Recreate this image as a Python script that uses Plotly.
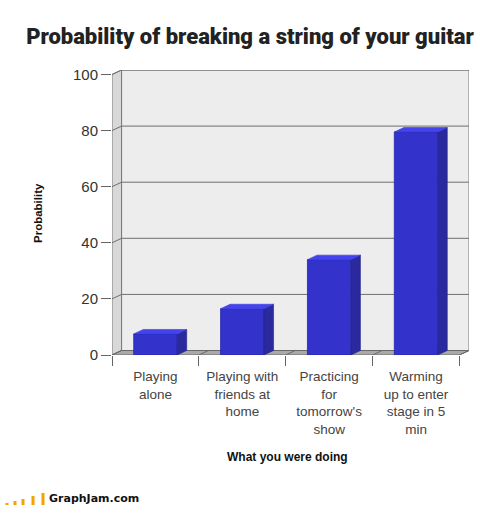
import plotly.graph_objects as go

categories = [
    "Playing<br>alone",
    "Playing with<br>friends at<br>home",
    "Practicing<br>for<br>tomorrow's<br>show",
    "Warming<br>up to enter<br>stage in 5<br>min",
]
probability = [7.5, 16.5, 34, 79.5]
y_ticks = [0, 20, 40, 60, 80, 100]

# fake-3D depth, in axis units
DX = 0.11
DY = 1.6
HALF = 0.25

FRONT = "#3333cc"
SIDE = "#2a2a9e"
TOP = "#4343f0"
GRID = "#6e6e6e"

xs = list(range(len(categories)))
x_lo, x_hi = -0.5, len(categories) - 0.5

fig = go.Figure()

# front faces
fig.add_trace(go.Bar(
    x=xs, y=probability, width=2 * HALF,
    marker=dict(color=FRONT, line=dict(color="#2525a8", width=0.8)),
    hoverinfo="y",
))

# side and top faces
side_x, side_y, top_x, top_y = [], [], [], []
for x, v in zip(xs, probability):
    r = x + HALF
    side_x += [r, r + DX, r + DX, r, r, None]
    side_y += [0, DY, v + DY, v, 0, None]
    l = x - HALF
    top_x += [l, r, r + DX, l + DX, l, None]
    top_y += [v, v, v + DY, v + DY, v, None]
fig.add_trace(go.Scatter(x=side_x, y=side_y, mode="lines", fill="toself",
                         fillcolor=SIDE, line=dict(color="#23238a", width=0.6),
                         hoverinfo="skip"))
fig.add_trace(go.Scatter(x=top_x, y=top_y, mode="lines", fill="toself",
                         fillcolor=TOP, line=dict(color="#3a3ad8", width=0.6),
                         hoverinfo="skip"))

# walls, floor, grid
shapes = [
    dict(type="rect", x0=x_lo + DX, x1=x_hi + DX, y0=DY, y1=100 + DY,
         fillcolor="#ededed", line=dict(color="#7a7a7a", width=1), layer="below"),
    dict(type="path", layer="below", fillcolor="#d8d8d8",
         line=dict(color="#7a7a7a", width=1),
         path=f"M{x_lo},0 L{x_lo + DX},{DY} L{x_lo + DX},{100 + DY} L{x_lo},100 Z"),
    dict(type="path", layer="below", fillcolor="#a9a9a9",
         line=dict(color="#6a6a6a", width=1),
         path=f"M{x_lo},0 L{x_hi},0 L{x_hi + DX},{DY} L{x_lo + DX},{DY} Z"),
]
for t in y_ticks[1:]:
    shapes.append(dict(type="path", layer="below", line=dict(color=GRID, width=1),
                       path=f"M{x_lo},{t} L{x_lo + DX},{t + DY} L{x_hi + DX},{t + DY}"))
for b in range(len(categories) + 1):
    bx = x_lo + b
    shapes.append(dict(type="line", layer="below", line=dict(color="#6a6a6a", width=1),
                       x0=bx, y0=0, x1=bx + DX, y1=DY))

# GraphJam logo bars (pixels -> paper)
L, R, T, B = 112, 31, 70, 150
pw, ph = 500 - L - R, 505 - T - B


def px(x):
    return (x - L) / pw


def py(y):
    return (505 - B - y) / ph


for cx, h in [(7, 2), (15, 4), (23, 6), (33, 9), (43, 12)]:
    shapes.append(dict(type="rect", xref="paper", yref="paper",
                       x0=px(cx - 1.5), x1=px(cx + 1.5), y0=py(505), y1=py(505 - h),
                       fillcolor="#f5a300", line=dict(width=0)))

fig.update_layout(
    width=500, height=505,
    margin=dict(l=L, r=R, t=T, b=B),
    paper_bgcolor="white", plot_bgcolor="white",
    showlegend=False,
    shapes=shapes,
    font=dict(family="Liberation Sans, Arial, sans-serif", color="#333"),
    title=dict(text="Probability of breaking a string of your guitar",
               x=0.5, xanchor="center", y=1 - 36 / 505, yanchor="middle",
               font=dict(family="Roboto, Liberation Sans, sans-serif", weight=900,
                         size=22, color="#222")),
    xaxis=dict(range=[x_lo, x_hi + DX], tickvals=xs, ticktext=categories,
               ticks="outside", ticklen=9, tickcolor="rgba(0,0,0,0)",
               tickfont=dict(size=13.5, color="#444"),
               minor=dict(tick0=x_lo, dtick=1, ticks="outside", ticklen=10,
                          tickcolor="#666", showgrid=False),
               showgrid=False, zeroline=False, showline=False, fixedrange=True),
    yaxis=dict(range=[0, 100 + DY], tickvals=y_ticks, ticks="outside", ticklen=10,
               tickcolor="#666", tickfont=dict(size=15, color="#333"),
               showgrid=False, zeroline=False, showline=False, fixedrange=True),
    annotations=[
        dict(text="<b>Probability</b>", textangle=-90, xref="paper", yref="paper",
             x=px(38), y=py(213), xanchor="center", yanchor="middle",
             showarrow=False, font=dict(size=11.5, color="#111")),
        dict(text="<b>What you were doing</b>", xref="paper", yref="paper",
             x=px(287), y=py(457), xanchor="center", yanchor="middle",
             showarrow=False, font=dict(size=12, color="#111")),
        dict(text="<b>GraphJam.com</b>", xref="paper", yref="paper",
             x=px(47), y=py(498), xanchor="left", yanchor="middle", showarrow=False,
             font=dict(family="DejaVu Sans, sans-serif", size=11, color="#111")),
    ],
)

# page body margin would push the figure 8px off the window
fig.write_html("out.html", config={"displayModeBar": False},
               post_script="document.body.style.margin='0';")
